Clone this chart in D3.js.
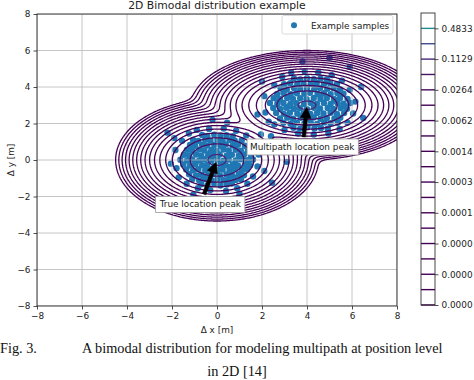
<!DOCTYPE html>
<html>
<head>
<meta charset="utf-8">
<script src="https://d3js.org/d3.v7.min.js"></script>
<style>
  body { margin: 0; background: #fff; }
  svg text { font-family: "DejaVu Sans", sans-serif; fill: #222; }
  svg text.caption { font-family: "Liberation Serif", serif; fill: #111; }
</style>
</head>
<body>
<div id="chart"></div>
<script>
// mixture model behind the contour lines
var compWeight = [0.5, 0.5];
var compMeanX = [0, 4];
var compMeanY = [0, 3];
var compSdX = [0.93, 1.06];
var compSdY = [0.69, 0.62];

// contour levels (log spaced, as on the colour bar)
var levels = [1e-6, 2.069e-6, 4.281e-6, 8.859e-6, 1.833e-5, 3.793e-5, 7.848e-5, 1.624e-4,
  3.360e-4, 6.952e-4, 1.438e-3, 2.976e-3, 6.158e-3, 1.274e-2, 2.637e-2, 5.456e-2,
  1.129e-1, 2.336e-1, 4.833e-1, 1];
var levelLabels = ["0.0000", "", "0.0000", "", "0.0000", "", "0.0001", "", "0.0003", "",
  "0.0014", "", "0.0062", "", "0.0264", "", "0.1129", "", "0.4833", ""];

var xTicks = [-8, -6, -4, -2, 0, 2, 4, 6, 8];
var yTicks = [-8, -6, -4, -2, 0, 2, 4, 6, 8];

// samples
var samples = [
  // true location cluster
  [-0.70,-1.33],[-0.42,-1.38],[-0.12,-1.31],[0.15,-1.40],[0.43,-1.34],[0.66,-1.29],
  [-1.10,-1.05],[-0.79,-1.12],[-0.55,-1.04],[-0.25,-1.10],[0.02,-1.06],[0.29,-1.11],[0.52,-1.03],[0.83,-1.09],[1.06,-1.05],
  [-1.24,-0.78],[-0.93,-0.84],[-0.70,-0.80],[-0.39,-0.83],[-0.15,-0.77],[0.13,-0.85],[0.42,-0.79],[0.66,-0.82],[0.97,-0.78],[1.20,-0.84],
  [-1.37,-0.52],[-1.06,-0.57],[-0.83,-0.51],[-0.52,-0.56],[-0.28,-0.50],[0.03,-0.55],[0.25,-0.53],[0.56,-0.58],[0.79,-0.50],[1.10,-0.55],[1.33,-0.52],
  [-1.50,-0.25],[-1.20,-0.30],[-0.97,-0.24],[-0.66,-0.29],[-0.43,-0.26],[-0.12,-0.31],[0.16,-0.24],[0.39,-0.28],[0.70,-0.25],[0.93,-0.30],[1.24,-0.26],[1.47,-0.29],
  [-1.63,0.02],[-1.33,-0.03],[-1.10,0.03],[-0.79,-0.02],[-0.56,0.04],[-0.25,-0.01],[0.02,0.03],[0.29,-0.04],[0.52,0.02],[0.83,-0.02],[1.06,0.04],[1.37,-0.01],[1.60,0.03],
  [-1.47,0.29],[-1.24,0.25],[-0.93,0.30],[-0.70,0.24],[-0.39,0.28],[-0.16,0.26],[0.12,0.30],[0.43,0.24],[0.66,0.29],[0.97,0.25],[1.20,0.30],[1.51,0.26],
  [-1.33,0.56],[-1.10,0.51],[-0.79,0.57],[-0.56,0.52],[-0.25,0.55],[-0.02,0.50],[0.29,0.57],[0.52,0.53],[0.83,0.56],[1.06,0.51],[1.37,0.55],
  [-1.20,0.83],[-0.97,0.78],[-0.66,0.84],[-0.43,0.79],[-0.12,0.82],[0.16,0.77],[0.39,0.85],[0.70,0.80],[0.93,0.83],[1.24,0.78],
  [-1.06,1.10],[-0.83,1.05],[-0.52,1.11],[-0.29,1.06],[0.02,1.09],[0.25,1.04],[0.56,1.10],[0.79,1.06],[1.10,1.08],
  [-0.66,1.37],[-0.43,1.32],[-0.12,1.39],[0.15,1.33],[0.42,1.36],[0.70,1.31],
  [-0.95,-0.15],[-0.30,0.40],[0.55,-0.40],[0.20,0.95],[-0.60,-0.95],[1.15,0.20],[-1.15,0.70],[0.75,-0.95],
  [-1.85,0.55],[-1.80,-0.45],[-1.70,-0.95],[-1.55,1.05],[-1.25,1.45],[-0.90,1.65],[-0.35,1.70],[0.30,1.72],[0.85,1.60],[1.30,1.35],
  [1.70,0.85],[1.85,0.30],[1.80,-0.35],[1.60,-0.90],[1.35,-1.30],[0.90,-1.55],[0.40,-1.70],[-0.30,-1.65],[-0.85,-1.55],[-1.35,-1.30],
  [-2.20,1.50],[-0.20,2.20],[2.45,-1.25],[1.00,-1.85],[-1.05,-1.90],[-2.05,-0.20],[0.45,2.05],[1.95,1.40],[-1.90,1.20],[2.10,-0.60],
  // multipath cluster
  [3.40,1.77],[3.70,1.72],[4.02,1.79],[4.33,1.73],[4.62,1.76],[4.92,1.71],
  [2.95,2.04],[3.27,1.99],[3.55,2.05],[3.88,2.00],[4.17,2.03],[4.45,1.98],[4.77,2.06],[5.05,2.01],[5.37,2.04],
  [2.80,2.27],[3.12,2.32],[3.38,2.26],[3.72,2.31],[3.98,2.28],[4.30,2.33],[4.60,2.26],[4.88,2.30],[5.22,2.27],[5.48,2.32],
  [2.63,2.58],[2.97,2.53],[3.24,2.59],[3.57,2.54],[3.85,2.57],[4.15,2.52],[4.45,2.58],[4.73,2.55],[5.05,2.59],[5.33,2.53],[5.65,2.57],
  [2.50,2.85],[2.82,2.80],[3.08,2.86],[3.42,2.81],[3.68,2.84],[4.00,2.79],[4.31,2.86],[4.58,2.82],[4.92,2.85],[5.18,2.80],[5.50,2.84],[5.78,2.81],
  [2.35,3.12],[2.68,3.07],[2.95,3.13],[3.27,3.08],[3.53,3.11],[3.87,3.06],[4.17,3.12],[4.44,3.09],[4.75,3.13],[5.05,3.07],[5.36,3.11],[5.62,3.08],[5.93,3.12],
  [2.52,3.39],[2.80,3.34],[3.12,3.40],[3.38,3.35],[3.70,3.38],[3.98,3.33],[4.30,3.40],[4.60,3.36],[4.88,3.39],[5.20,3.34],[5.47,3.40],[5.80,3.35],
  [2.67,3.62],[2.95,3.67],[3.28,3.61],[3.55,3.66],[3.88,3.63],[4.13,3.68],[4.47,3.62],[4.75,3.66],[5.05,3.61],[5.35,3.67],[5.62,3.63],
  [2.83,3.93],[3.10,3.88],[3.42,3.94],[3.70,3.89],[4.00,3.92],[4.32,3.87],[4.58,3.94],[4.90,3.90],[5.18,3.93],[5.47,3.88],
  [2.98,4.16],[3.25,4.21],[3.57,4.15],[3.85,4.20],[4.17,4.17],[4.43,4.22],[4.75,4.16],[5.03,4.20],[5.33,4.15],
  [3.42,4.47],[3.70,4.42],[4.00,4.48],[4.30,4.43],[4.60,4.46],[4.88,4.41],
  [3.20,2.95],[4.60,3.55],[3.80,2.40],[5.25,3.25],[3.00,3.80],[4.40,4.00],[5.70,2.95],[2.70,3.25],
  [2.10,3.50],[2.15,2.60],[2.30,2.10],[2.55,4.10],[2.90,4.55],[3.30,4.80],[3.90,4.85],[4.50,4.80],[5.10,4.65],[5.55,4.35],
  [5.90,3.85],[6.15,3.20],[6.05,2.55],[5.80,2.05],[5.45,1.70],[4.95,1.45],[4.30,1.40],[3.60,1.45],[3.00,1.65],[2.55,1.95],
  [3.80,5.40],[5.00,5.60],[1.80,2.50],[3.10,-0.10],[2.40,1.30],[6.50,2.30],[5.90,5.10],[2.00,4.30],[6.40,4.00],[2.70,0.90]
];

var annoText = ["True location peak", "Multipath location peak"];
var annoX = [0, 4];
var annoY = [0, 3];
var annoTextX = [-2.55, 1.47];
var annoTextY = [-2.6, 0.55];

var width = 474, height = 380;
var plot = {left: 37, right: 397, top: 14, bottom: 306};

var svg = d3.select("#chart").append("svg")
  .attr("width", width)
  .attr("height", height);

var xScale = d3.scaleLinear().domain([-8, 8]).range([plot.left, plot.right]);
var yScale = d3.scaleLinear().domain([-8, 8]).range([plot.bottom, plot.top]);

svg.append("clipPath").attr("id", "plotClip")
  .append("rect")
  .attr("x", plot.left).attr("y", plot.top)
  .attr("width", plot.right - plot.left).attr("height", plot.bottom - plot.top);

var inner = svg.append("g").attr("clip-path", "url(#plotClip)");

// scatter first, grid and contours on top of it (matplotlib z-order)
inner.selectAll("circle.sample")
  .data(samples)
  .enter().append("circle")
  .attr("class", "sample")
  .attr("cx", function(d) { return xScale(d[0]); })
  .attr("cy", function(d) { return yScale(d[1]); })
  .attr("r", 3.2)
  .style("fill", "#1f77b4");

inner.append("g")
  .selectAll("line")
  .data(xTicks)
  .enter().append("line")
  .attr("x1", function(d) { return xScale(d); })
  .attr("x2", function(d) { return xScale(d); })
  .attr("y1", plot.top).attr("y2", plot.bottom)
  .attr("stroke", "#b8b8b8").attr("stroke-width", 0.8);

inner.append("g")
  .selectAll("line")
  .data(yTicks)
  .enter().append("line")
  .attr("y1", function(d) { return yScale(d); })
  .attr("y2", function(d) { return yScale(d); })
  .attr("x1", plot.left).attr("x2", plot.right)
  .attr("stroke", "#b8b8b8").attr("stroke-width", 0.8);

// density grid (extends past the axes so clipped contours stay open)
var g0 = -12, step = 0.05, n = 481;
var values = new Float64Array(n * n);
for (var j = 0; j < n; j++) {
  var gy = g0 + j * step;
  for (var i = 0; i < n; i++) {
    var gx = g0 + i * step;
    var v = 0;
    for (var c = 0; c < compWeight.length; c++) {
      var dx = (gx - compMeanX[c]) / compSdX[c];
      var dy = (gy - compMeanY[c]) / compSdY[c];
      v += compWeight[c] / (2 * Math.PI * compSdX[c] * compSdY[c]) * Math.exp(-0.5 * (dx * dx + dy * dy));
    }
    values[j * n + i] = v;
  }
}

var contours = d3.contours().size([n, n]).thresholds(levels)(values);

var gridProj = d3.geoTransform({
  point: function(x, y) {
    this.stream.point(xScale(g0 + (x - 0.5) * step), yScale(g0 + (y - 0.5) * step));
  }
});
var path = d3.geoPath(gridProj);

var color = d3.scaleSequential(d3.interpolateViridis).domain([levels[0], levels[levels.length - 1]]);

inner.append("g")
  .selectAll("path")
  .data(contours)
  .enter().append("path")
  .attr("d", path)
  .attr("fill", "none")
  .attr("stroke", function(d) { return color(d.value); })
  .attr("stroke-width", 1.3);

// axes
var xAxis = svg.append("g")
  .attr("transform", "translate(0," + plot.bottom + ")")
  .call(d3.axisBottom(xScale).tickValues(xTicks).tickSize(3.5).tickPadding(3));
var yAxis = svg.append("g")
  .attr("transform", "translate(" + plot.left + ",0)")
  .call(d3.axisLeft(yScale).tickValues(yTicks).tickSize(3.5).tickPadding(3));
[xAxis, yAxis].forEach(function(a) {
  a.select(".domain").remove();
  a.selectAll("text").style("font-family", "DejaVu Sans").style("font-size", "8.9px").attr("fill", "#222");
  a.selectAll("line").attr("stroke", "#222").attr("stroke-width", 0.8);
});

svg.append("rect")
  .attr("x", plot.left).attr("y", plot.top)
  .attr("width", plot.right - plot.left).attr("height", plot.bottom - plot.top)
  .attr("fill", "none").attr("stroke", "#222").attr("stroke-width", 0.9);

svg.append("text")
  .attr("x", (plot.left + plot.right) / 2).attr("y", 8.5)
  .style("font-size", "10.8px").style("text-anchor", "middle")
  .text("2D Bimodal distribution example");

svg.append("text")
  .attr("x", (plot.left + plot.right) / 2).attr("y", 332.5)
  .style("font-size", "8.9px").style("text-anchor", "middle")
  .text("Δ x [m]");

svg.append("text")
  .attr("transform", "translate(14," + ((plot.top + plot.bottom) / 2) + ") rotate(-90)")
  .style("font-size", "8.9px").style("text-anchor", "middle")
  .text("Δ y [m]");

// annotations: arrow from the text box towards the peak
var annoG = svg.append("g");
annoText.forEach(function(t, k) {
  var g = annoG.append("g");
  var tx = xScale(annoTextX[k]), ty = yScale(annoTextY[k]);
  var txt = g.append("text").attr("x", tx).attr("y", ty).style("font-size", "8.9px").text(t);
  var bb = txt.node().getBBox();
  var pad = 3;
  var box = {x0: bb.x - pad, y0: bb.y - pad, x1: bb.x + bb.width + pad, y1: bb.y + bb.height + pad};
  var cx = (box.x0 + box.x1) / 2, cy = (box.y0 + box.y1) / 2;
  var px = xScale(annoX[k]), py = yScale(annoY[k]);
  var ddx = px - cx, ddy = py - cy;
  var len = Math.sqrt(ddx * ddx + ddy * ddy);
  // where the centre-to-peak line leaves the box
  var tEdge = Math.min(
    ddx !== 0 ? Math.abs((ddx > 0 ? box.x1 - cx : cx - box.x0) / ddx) : Infinity,
    ddy !== 0 ? Math.abs((ddy > 0 ? box.y1 - cy : cy - box.y0) / ddy) : Infinity);
  var shrink = 0.05 * len;
  var ux = ddx / len, uy = ddy / len;
  var sx = cx + ddx * tEdge + ux * shrink, sy = cy + ddy * tEdge + uy * shrink;
  var ex = px - ux * shrink, ey = py - uy * shrink;
  var nx = -uy, ny = ux;
  var w = 1.8, hw = 5.35, hl = 10.7;
  var bx = ex - ux * hl, by = ey - uy * hl;
  var pts = [
    [sx + nx * w, sy + ny * w], [bx + nx * w, by + ny * w], [bx + nx * hw, by + ny * hw],
    [ex, ey], [bx - nx * hw, by - ny * hw], [bx - nx * w, by - ny * w], [sx - nx * w, sy - ny * w]
  ];
  g.insert("path", "text")
    .attr("d", "M" + pts.map(function(p) { return p.join(","); }).join("L") + "Z")
    .attr("fill", "#000").attr("stroke", "#000").attr("stroke-width", 0.6);
  g.insert("rect", "text")
    .attr("x", box.x0).attr("y", box.y0)
    .attr("width", box.x1 - box.x0).attr("height", box.y1 - box.y0)
    .attr("fill", "#fff").attr("stroke", "#999").attr("stroke-width", 0.8);
});

// legend
var leg = svg.append("g");
leg.append("rect")
  .attr("x", 282).attr("y", 15.5).attr("width", 111).attr("height", 18.5).attr("rx", 2)
  .attr("fill", "#fff").attr("fill-opacity", 0.85).attr("stroke", "#d0d0d0").attr("stroke-width", 0.8);
leg.append("circle").attr("cx", 294).attr("cy", 25.3).attr("r", 3).style("fill", "#1f77b4");
leg.append("text").attr("x", 311).attr("y", 28.6).style("font-size", "8.9px").text("Example samples");

// colour bar for the contour levels
var cb = {x0: 421, x1: 435, top: 13, bottom: 305};
var cbScale = d3.scaleLinear().domain([0, levels.length - 1]).range([cb.bottom, cb.top]);
var cbG = svg.append("g");
cbG.selectAll("line.lev")
  .data(levels.slice(0, levels.length - 1))
  .enter().append("line")
  .attr("class", "lev")
  .attr("x1", cb.x0).attr("x2", cb.x1)
  .attr("y1", function(d, i) { return cbScale(i); })
  .attr("y2", function(d, i) { return cbScale(i); })
  .attr("stroke", function(d) { return color(d); })
  .attr("stroke-width", 1.4);
cbG.append("rect")
  .attr("x", cb.x0).attr("y", cb.top).attr("width", cb.x1 - cb.x0).attr("height", cb.bottom - cb.top)
  .attr("fill", "none").attr("stroke", "#333").attr("stroke-width", 0.9);
var tickIdx = levelLabels.map(function(d, i) { return d ? i : -1; }).filter(function(i) { return i >= 0; });
var cbAxis = cbG.append("g")
  .attr("transform", "translate(" + cb.x1 + ",0)")
  .call(d3.axisRight(cbScale).tickValues(tickIdx).tickSize(3.5).tickPadding(3)
    .tickFormat(function(i) { return levelLabels[i]; }));
cbAxis.select(".domain").remove();
cbAxis.selectAll("text").style("font-family", "DejaVu Sans").style("font-size", "8.9px").attr("fill", "#222");
cbAxis.selectAll("line").attr("stroke", "#222").attr("stroke-width", 0.8);

// figure caption
svg.append("text").attr("class", "caption").attr("x", 0).attr("y", 353)
  .style("font-size", "14.3px").text("Fig. 3.");
svg.append("text").attr("class", "caption").attr("x", 82).attr("y", 353)
  .style("font-size", "14.3px").text("A bimodal distribution for modeling multipath at position level");
svg.append("text").attr("class", "caption").attr("x", 237).attr("y", 376)
  .style("font-size", "14.3px").style("text-anchor", "middle").text("in 2D [14]");
</script>
</body>
</html>
